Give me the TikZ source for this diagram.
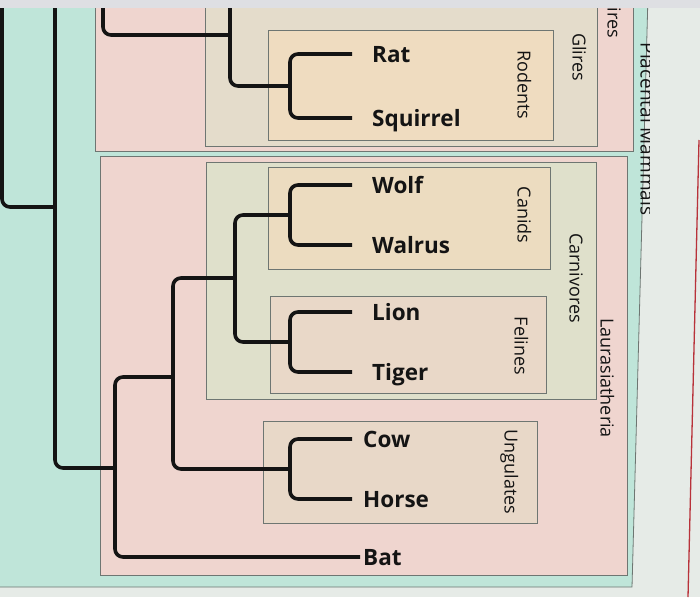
\documentclass[tikz,border=0pt]{standalone}
\usepackage{fontspec}
\setmainfont{Open Sans}
\definecolor{bgpale}{HTML}{E6EBE7}
\definecolor{topstrip}{HTML}{DEDFE3}
\definecolor{cyanish}{HTML}{BFE5D9}
\definecolor{pinkish}{HTML}{EFD5CF}
\definecolor{glirescol}{HTML}{E4DCCB}
\definecolor{rodentcol}{HTML}{EFDCC0}
\definecolor{carncol}{HTML}{DFE0CB}
\definecolor{canidcol}{HTML}{ECDCC0}
\definecolor{felinecol}{HTML}{E9D8C8}
\definecolor{ungcol}{HTML}{E8D8C8}
\definecolor{boxgray}{HTML}{6E7672}
\definecolor{inkblack}{HTML}{141414}
\definecolor{redline}{HTML}{B8323A}
\begin{document}
\begin{tikzpicture}[x=1pt,y=-1pt,
  branch/.style={draw=inkblack, line width=3.6pt, rounded corners=8pt},
  frame/.style={draw=boxgray, line width=0.8pt},
  leaf/.style={anchor=west, font=\bfseries\fontsize{22.5}{26}\selectfont,
    text height=16pt, text depth=0pt, inner ysep=0pt, inner xsep=20pt, text=inkblack},
  clade/.style={rotate=-90, font=\fontsize{18}{22}\selectfont,
    text height=13pt, text depth=0pt, inner sep=0pt, text=inkblack},
]
\useasboundingbox (0,0) rectangle (700,597);
% backgrounds
\fill[bgpale] (0,0) rectangle (700,597);
\fill[cyanish] (-5,-5) -- (648,-5) -- (632,587) -- (-5,587) -- cycle;
\draw[frame] (-5,587) -- (632,587) -- (648,-5);
% Euarchontoglires (cut) box
\filldraw[frame, fill=pinkish] (95,-5) rectangle (633,151);
\filldraw[frame, fill=glirescol] (205,-5) rectangle (597,146);
\filldraw[frame, fill=rodentcol] (268,30) rectangle (553,140);
% Laurasiatheria box
\filldraw[frame, fill=pinkish] (100,156) rectangle (627,575);
\filldraw[frame, fill=carncol] (206,162) rectangle (596,399);
\filldraw[frame, fill=canidcol] (268,167) rectangle (550,269);
\filldraw[frame, fill=felinecol] (270,296) rectangle (546,393);
\filldraw[frame, fill=ungcol] (263,421) rectangle (537,523);

% clade labels
\node[clade] (lrod) at (524,85) {Rodents};
\node[clade] (lgli) at (579,57) {Glires};
\node[clade, anchor=east] (lires) at (614,38) {ires};
\node[clade] (lcan) at (524,215) {Canids};
\node[clade] (lfel) at (521,346) {Felines};
\node[clade] (lcar) at (576,278) {Carnivores};
\node[clade] (lung) at (511,472) {Ungulates};
\node[clade] (llau) at (607,378) {Laurasiatheria};
\begin{scope}
  \clip (634,0) rectangle (649,597);
  \node[clade, font=\fontsize{19}{22}\selectfont] (lpla) at (647,129) {Placental Mammals};
\end{scope}

% leaves
\node[leaf] (rat) at (352,54) {Rat};
\node[leaf] (squirrel) at (352,118) {Squirrel};
\node[leaf] (wolf) at (352,185) {Wolf};
\node[leaf] (walrus) at (352,245) {Walrus};
\node[leaf] (lion) at (352,312) {Lion};
\node[leaf] (tiger) at (352,372) {Tiger};
\node[leaf, inner xsep=11pt] (cow) at (352,439) {Cow};
\node[leaf, inner xsep=11pt] (horse) at (352,499) {Horse};
\node[leaf, inner xsep=3pt] (bat) at (360,557) {Bat};

% internal nodes
\coordinate (roottop) at (2,-10);
\coordinate (pltop) at (55,-10);
\coordinate (pl) at (55,207);
\coordinate (eutop) at (103,-10);
\coordinate (gltop) at (230,-10);
\coordinate (gl) at (230,35);
\coordinate (rod) at (290,86);
\coordinate (la) at (115,468);
\coordinate (cu) at (173,377);
\coordinate (carn) at (235,278);
\coordinate (can) at (290,215);
\coordinate (fel) at (290,342);
\coordinate (ung) at (290,469);

% branches
\draw[branch] (roottop) |- (pl);
\draw[branch] (pltop) |- (la);
\draw[branch] (eutop) |- (gl);
\draw[branch] (gltop) |- (rod);
\draw[branch] (rod) |- (rat.west);
\draw[branch] (rod) |- (squirrel.west);
\draw[branch] (la) |- (cu);
\draw[branch] (la) |- (bat.west);
\draw[branch] (cu) |- (carn);
\draw[branch] (cu) |- (ung);
\draw[branch] (carn) |- (can);
\draw[branch] (carn) |- (fel);
\draw[branch] (can) |- (wolf.west);
\draw[branch] (can) |- (walrus.west);
\draw[branch] (fel) |- (lion.west);
\draw[branch] (fel) |- (tiger.west);
\draw[branch] (ung) |- (cow.west);
\draw[branch] (ung) |- (horse.west);

% photo edges
\fill[topstrip] (0,0) rectangle (700,8);
\draw[redline, line width=1.3pt] (699,140) -- (688,597);
\end{tikzpicture}
\end{document}
